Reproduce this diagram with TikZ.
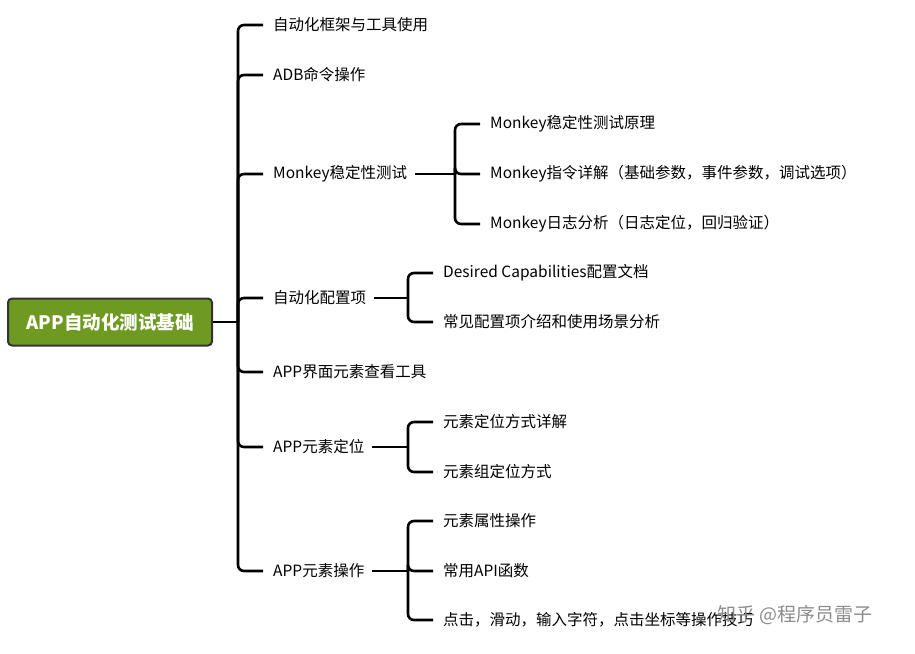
\documentclass[tikz,border=0pt]{standalone}
\usepackage{fontspec}
\setmainfont{Noto Sans CJK SC}
\definecolor{rootgreen}{HTML}{6E9A22}
\tikzset{
  leaf/.style={anchor=west, inner sep=0pt, font=\fontsize{15.5}{17}\selectfont},
  link/.style={line width=2.6pt, rounded corners=6pt},
}
\begin{document}
\begin{tikzpicture}[x=1pt, y=-1pt]
  \useasboundingbox (0,0) rectangle (915,653);
  % root
  \node[draw=black!80, line width=2pt, fill=rootgreen, rounded corners=4pt, text=white,
        minimum width=204pt, minimum height=47pt, font=\fontsize{18.5}{21}\selectfont\bfseries]
        (root) at (110,322) {APP自动化测试基础};
  \coordinate (trunk) at (238,322);
  \draw[link] (root.east) -- (trunk);
  % first level
  \node[leaf] (a1) at (273,25)  {自动化框架与工具使用};
  \node[leaf] (a2) at (273,75)  {ADB命令操作};
  \node[leaf] (a3) at (273,174) {Monkey稳定性测试};
  \node[leaf] (a4) at (273,298) {自动化配置项};
  \node[leaf] (a5) at (273,372) {APP界面元素查看工具};
  \node[leaf] (a6) at (273,447) {APP元素定位};
  \node[leaf] (a7) at (273,571) {APP元素操作};
  \foreach \n in {a1,a2,a3,a4,a5,a6,a7}
    \draw[link] (trunk) |- ([xshift=-10pt]\n.west);
  % Monkey
  \node[leaf] (b1) at (490,124) {Monkey稳定性测试原理};
  \node[leaf] (b2) at (490,174) {Monkey指令详解（基础参数，事件参数，调试选项）};
  \node[leaf] (b3) at (490,224) {Monkey日志分析（日志定位，回归验证）};
  \coordinate (bj) at (455,174);
  \draw[link] ([xshift=8pt]a3.east) -- (bj);
  \foreach \n in {b1,b2,b3}
    \draw[link] (bj) |- ([xshift=-10pt]\n.west);
  % config
  \node[leaf] (c1) at (443,273) {Desired Capabilities配置文档};
  \node[leaf] (c2) at (443,322) {常见配置项介绍和使用场景分析};
  \coordinate (cj) at (408,298);
  \draw[link] ([xshift=8pt]a4.east) -- (cj);
  \foreach \n in {c1,c2}
    \draw[link] (cj) |- ([xshift=-10pt]\n.west);
  % locate
  \node[leaf] (d1) at (443,422) {元素定位方式详解};
  \node[leaf] (d2) at (443,472) {元素组定位方式};
  \coordinate (dj) at (408,447);
  \draw[link] ([xshift=8pt]a6.east) -- (dj);
  \foreach \n in {d1,d2}
    \draw[link] (dj) |- ([xshift=-10pt]\n.west);
  % operate
  \node[leaf] (e1) at (443,521) {元素属性操作};
  \node[leaf] (e2) at (443,571) {常用API函数};
  \node[leaf] (e3) at (443,620) {点击，滑动，输入字符，点击坐标等操作技巧};
  \coordinate (ej) at (408,571);
  \draw[link] ([xshift=8pt]a7.east) -- (ej);
  \foreach \n in {e1,e2,e3}
    \draw[link] (ej) |- ([xshift=-10pt]\n.west);
  % watermark
  \node[anchor=west, inner sep=0pt, text=black!45, font=\fontsize{19}{22}\selectfont]
    (wm) at (717,615) {知乎 @程序员雷子};
\end{tikzpicture}
\end{document}
